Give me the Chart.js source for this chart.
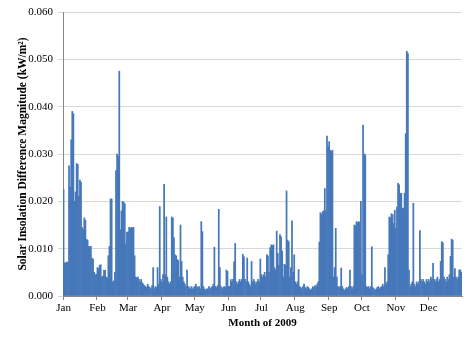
<!DOCTYPE html>
<html>
<head>
<meta charset="utf-8">
<script src="https://cdn.jsdelivr.net/npm/chart.js@4/dist/chart.umd.min.js"></script>
<style>
  body { margin: 0; background: #fff; }
  canvas { display: block; }
</style>
</head>
<body>
<canvas id="insolation" width="474" height="344"></canvas>
<script>
// daily values, kW/m²
const jan = [0.0225, 0.007, 0.007, 0.0072, 0.007, 0.0275, 0.023, 0.033, 0.039, 0.0385,
  0.020, 0.022, 0.028, 0.0278, 0.021, 0.0245, 0.024, 0.0145, 0.014, 0.0165,
  0.016, 0.012, 0.0118, 0.0105, 0.0104, 0.0105, 0.008, 0.0078, 0.005, 0.0045, 0.0046];
const feb = [0.006, 0.0058, 0.0065, 0.0066, 0.004, 0.0042, 0.0055, 0.0054, 0.004, 0.0038,
  0.0085, 0.0105, 0.0205, 0.0205, 0.003, 0.0032, 0.005, 0.0265, 0.030, 0.0295,
  0.0475, 0.014, 0.018, 0.020, 0.0198, 0.0195, 0.011, 0.0135];
const mar = [0.0135, 0.0145, 0.0143, 0.0145, 0.0144, 0.0145, 0.0085, 0.004, 0.0038, 0.004,
  0.0035, 0.003, 0.0035, 0.0028, 0.0025, 0.0022, 0.002, 0.0018, 0.0025, 0.002,
  0.0018, 0.0015, 0.0022, 0.006, 0.0015, 0.002, 0.0018, 0.006, 0.0025, 0.0189, 0.0035];
const apr = [0.003, 0.0045, 0.0236, 0.0045, 0.0167, 0.004, 0.003, 0.0025, 0.003, 0.0167,
  0.0165, 0.0123, 0.0087, 0.0085, 0.0077, 0.0075, 0.004, 0.015, 0.0073, 0.004,
  0.003, 0.0025, 0.002, 0.0055, 0.002, 0.0018, 0.0015, 0.002, 0.0015, 0.0018];
const may = [0.002, 0.0025, 0.002, 0.0018, 0.002, 0.0015, 0.0157, 0.0136, 0.002, 0.0015,
  0.0012, 0.0015, 0.0015, 0.002, 0.0015, 0.0018, 0.002, 0.0025, 0.0103, 0.002,
  0.0018, 0.0022, 0.0183, 0.006, 0.002, 0.0015, 0.0018, 0.002, 0.0018, 0.0055, 0.0052];
const jun = [0.002, 0.002, 0.0035, 0.003, 0.0035, 0.0072, 0.0111, 0.003, 0.0025, 0.003,
  0.0035, 0.003, 0.0035, 0.0088, 0.0083, 0.0035, 0.003, 0.008, 0.003, 0.0025,
  0.002, 0.0073, 0.003, 0.0035, 0.003, 0.0025, 0.003, 0.0035, 0.003, 0.0078];
const jul = [0.0045, 0.004, 0.0045, 0.005, 0.004, 0.0087, 0.0085, 0.005, 0.0102, 0.0108,
  0.0107, 0.0108, 0.006, 0.0055, 0.0137, 0.009, 0.0065, 0.013, 0.0125, 0.0095,
  0.004, 0.0067, 0.0065, 0.0222, 0.0118, 0.0115, 0.004, 0.006, 0.0159, 0.005, 0.0087];
const aug = [0.003, 0.0025, 0.003, 0.0056, 0.002, 0.0018, 0.0015, 0.002, 0.0025, 0.0018,
  0.0015, 0.002, 0.0018, 0.0015, 0.0012, 0.0015, 0.002, 0.0018, 0.0022, 0.002,
  0.0025, 0.003, 0.0114, 0.0176, 0.0172, 0.0178, 0.018, 0.0227, 0.018, 0.0338, 0.0315];
const sep = [0.0326, 0.0308, 0.0305, 0.0308, 0.004, 0.006, 0.0143, 0.004, 0.002, 0.0018,
  0.002, 0.0059, 0.002, 0.0015, 0.0012, 0.0015, 0.0018, 0.0015, 0.002, 0.0055,
  0.002, 0.0015, 0.002, 0.015, 0.0148, 0.0157, 0.0155, 0.0157, 0.0156, 0.020];
const oct = [0.0045, 0.0361, 0.030, 0.0298, 0.002, 0.0018, 0.002, 0.0015, 0.002, 0.0104,
  0.0018, 0.0015, 0.0012, 0.0015, 0.0018, 0.002, 0.0015, 0.0018, 0.002, 0.0025,
  0.002, 0.006, 0.0025, 0.003, 0.0087, 0.0167, 0.0165, 0.0174, 0.0172, 0.0153, 0.0181];
const nov = [0.0143, 0.0188, 0.0238, 0.0235, 0.0217, 0.0217, 0.0185, 0.0186, 0.0217, 0.0343,
  0.0517, 0.0512, 0.0055, 0.002, 0.0025, 0.003, 0.0196, 0.0025, 0.002, 0.003,
  0.0025, 0.003, 0.0138, 0.0035, 0.003, 0.0035, 0.003, 0.0025, 0.0035, 0.003];
const dec = [0.0035, 0.003, 0.004, 0.0035, 0.0069, 0.0035, 0.003, 0.0035, 0.004, 0.003,
  0.0035, 0.0073, 0.0115, 0.0112, 0.004, 0.0035, 0.003, 0.004, 0.0035, 0.0045,
  0.0084, 0.012, 0.0118, 0.004, 0.0058, 0.004, 0.0035, 0.004, 0.0055, 0.0055, 0.005];

const monthNames = ['Jan', 'Feb', 'Mar', 'Apr', 'May', 'Jun', 'Jul', 'Aug', 'Sep', 'Oct', 'Nov', 'Dec'];
const monthData = [jan, feb, mar, apr, may, jun, jul, aug, sep, oct, nov, dec];
const yTicks = [0, 0.01, 0.02, 0.03, 0.04, 0.05, 0.06];

// one category per day, month name only on the 1st
const values = monthData.flat();
const dayLabels = [];
monthData.forEach((days, m) => {
  days.forEach((v, i) => dayLabels.push(i === 0 ? monthNames[m] : ''));
});

const serif = "'Liberation Serif', 'Times New Roman', serif";

new Chart(document.getElementById('insolation'), {
  type: 'bar',
  data: {
    labels: dayLabels,
    datasets: [{
      data: values,
      backgroundColor: '#4678BA',
      borderWidth: 0,
      barPercentage: 1,
      categoryPercentage: 1
    }]
  },
  options: {
    responsive: false,
    animation: false,
    devicePixelRatio: 1,
    layout: { padding: { top: 12, right: 12, left: 0, bottom: 0 } },
    plugins: { legend: { display: false }, tooltip: { enabled: false } },
    scales: {
      x: {
        afterFit: s => { s.height = 48; },
        border: { color: '#868686' },
        grid: {
          drawOnChartArea: false,
          tickLength: 4,
          color: c => dayLabels[c.index] ? '#868686' : 'transparent'
        },
        ticks: {
          autoSkip: false,
          maxRotation: 0,
          padding: 2,
          color: '#000',
          font: { family: serif, size: 11 }
        },
        title: {
          display: true,
          text: 'Month of 2009',
          color: '#000',
          font: { family: serif, size: 11, weight: 'bold' },
          padding: { top: 0, bottom: 14 }
        }
      },
      y: {
        min: 0,
        max: 0.06,
        afterFit: s => { s.width = 63; },
        afterBuildTicks: s => { s.ticks = yTicks.map(v => ({ value: v })); },
        border: { color: '#868686' },
        grid: { color: '#D9D9D9', tickLength: 5 },
        ticks: {
          padding: 5,
          color: '#000',
          font: { family: serif, size: 11 },
          callback: v => v.toFixed(3)
        },
        title: {
          display: true,
          text: 'Solar Insolation Difference Magnitude (kW/m²)',
          color: '#000',
          font: { family: serif, size: 11.5, weight: 'bold' },
          padding: { top: 16, bottom: 0 }
        }
      }
    }
  }
});
</script>
</body>
</html>
